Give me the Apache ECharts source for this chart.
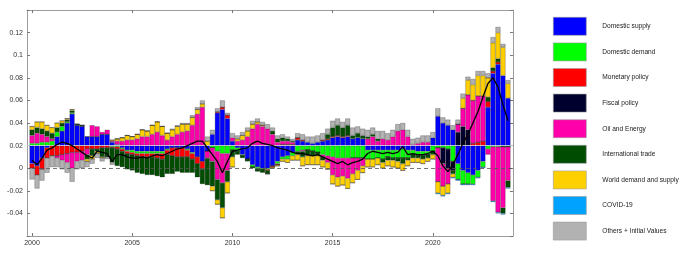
<!DOCTYPE html>
<html><head><meta charset="utf-8">
<script src="https://cdn.jsdelivr.net/npm/echarts@6/dist/echarts.min.js"></script>
<style>html,body{margin:0;padding:0;background:#fff}#c{width:685px;height:253px}</style>
</head><body><div id="c"></div>
<script>
// Steady-state level around which contributions are stacked
const BASELINE = 0.02;
const startYear = 2000, nQuarters = 96;
// quarter categories (2000Q1 ... 2023Q4), padded by one empty slot at each end
const quarters = [];
for (let i = 0; i < nQuarters; i++) quarters.push(String(startYear + i / 4));
const categories = ['pad0'].concat(quarters, ['pad1']);
const xTickLabels = ['2000', '2005', '2010', '2015', '2020'];
const yTickLabels = [-0.04, -0.02, 0, 0.02, 0.04, 0.06, 0.08, 0.1, 0.12];

const seriesNames = ['Domestic supply','Domestic demand','Monetary policy','Fiscal policy','Oil and Energy','International trade','World demand and supply','COVID-19','Others + Initial Values'];
const seriesColors = ['#0000ff','#00ff00','#ff0000','#00002e','#ff00aa','#004c00','#ffd000','#00a2ff','#b2b2b2'];

const domesticSupply = [-0.016,-0.018,-0.011,-0.002,0,0.008,0.013,0.020,0.028,0.018,0.017,0.008,0.008,0.008,0.010,0.010,
0.003,0.001,-0.002,-0.004,-0.004,-0.005,-0.005,-0.005,-0.005,-0.005,-0.005,-0.003,-0.002,-0.002,-0.002,-0.003,
-0.006,-0.010,-0.014,-0.005,0.010,0.029,0.032,0.024,0.004,-0.002,-0.008,-0.012,-0.017,-0.019,-0.020,-0.020,
-0.018,-0.014,-0.010,-0.009,-0.006,0.005,0.004,0.003,0.002,0.003,0.004,0.005,0.007,0.008,0.007,0.008,
0.006,0.007,0.006,-0.004,-0.004,-0.004,-0.004,-0.004,-0.004,-0.004,-0.003,-0.004,-0.004,-0.005,-0.005,-0.005,
0.007,0.026,0.020,0.018,0.014,-0.016,-0.022,-0.024,-0.026,-0.022,-0.014,0.034,0.064,0.072,0.062,0.042];
const domesticDemand = [0.002,0.002,0.003,0.003,0.004,0.004,0.004,0.001,0.001,0,0,0,0,0,0,0,
-0.001,-0.001,-0.001,-0.001,-0.002,-0.002,-0.002,-0.002,-0.002,-0.002,-0.002,-0.001,0,0,0,-0.001,
-0.001,0,0,0,-0.002,-0.005,-0.007,-0.007,-0.004,-0.003,-0.001,0,-0.002,-0.002,-0.001,-0.001,
0,-0.002,-0.002,-0.003,-0.003,-0.005,-0.004,-0.004,-0.005,-0.006,-0.008,-0.009,-0.010,-0.011,-0.011,-0.011,
-0.011,-0.011,-0.011,-0.008,-0.008,-0.007,-0.008,-0.006,-0.007,-0.007,-0.008,-0.007,-0.004,-0.004,-0.004,-0.003,
-0.005,-0.002,-0.002,-0.003,-0.014,-0.014,-0.012,-0.010,-0.008,-0.006,-0.005,-0.003,-0.001,-0.001,-0.001,-0.001];
const monetaryPolicy = [-0.004,-0.008,-0.010,-0.009,-0.009,-0.009,-0.008,-0.007,-0.006,-0.006,-0.005,-0.003,-0.003,-0.003,-0.002,-0.002,
-0.001,-0.002,-0.002,-0.002,-0.002,-0.002,-0.003,-0.003,-0.003,-0.004,-0.005,-0.004,-0.007,-0.008,-0.008,-0.006,
-0.005,-0.006,-0.007,0,0,0.001,0.002,0.003,0,0,0,0,0,0,0,-0.001,
-0.001,-0.001,0.001,0.001,0.001,0.002,0.001,0,0,0,0.001,0.001,0.001,0.001,0.001,0.001,
0,0,0,0,0,0,0,0,0,0,0,0,0,0,0,0,
0,0,0,0,0,0,0,0,0.002,0.003,0.004,0.005,0.002,0.002,0,0];
const fiscalPolicy = [0,0,0,0,0,0,0,0,0,0,0,0,0,0,0,0,
0,0,0,0,0,0,0,0,0,0,0,0,0,0,0,0,
0,0,0,0,0,0,0,0,0,0,0,0,0,0,0,0,
0,0,0,0,0,0,0,0,0,0,0,0,0,0,0,0,
0,0,0,0,0,0,0,0,0,0,0,0,0,0,0,0,
0,0,-0.014,-0.017,-0.008,0.012,0.017,0.014,0,0,0,0,0,0,0,0];
const oilEnergy = [0.007,0.009,0.007,0.005,0.002,-0.002,-0.005,-0.008,-0.014,-0.008,-0.008,-0.005,0.010,0.009,0.002,0.004,
0.001,0.003,0.004,0.005,0.005,0.006,0.008,0.008,0.010,0.012,0.009,0.005,0.008,0.010,0.012,0.013,
0.018,0.028,0.034,-0.006,-0.012,-0.025,-0.026,-0.015,0.003,0.004,0.005,0.008,0.015,0.019,0.017,0.015,
0.010,0.003,0.003,0.003,0.002,0,-0.001,0,0,0,-0.002,-0.006,-0.016,-0.017,-0.016,-0.018,
-0.014,-0.011,-0.007,0.006,0.008,0.004,0.006,0.005,0.008,0.013,0.014,0.008,0.001,0.002,0.003,0.003,
0,-0.030,-0.020,-0.014,0,0.007,0.016,0.031,0.038,0.041,0.040,-0.005,-0.048,-0.058,-0.054,-0.030];
const internationalTrade = [0.005,0.005,0.005,0.005,0.005,0.004,0.003,0.002,0.002,0.001,0.001,-0.004,-0.006,-0.002,-0.008,-0.008,
-0.013,-0.015,-0.014,-0.014,-0.014,-0.015,-0.015,-0.016,-0.016,-0.016,-0.016,-0.017,-0.016,-0.013,-0.014,-0.014,
-0.012,-0.012,-0.013,-0.024,-0.022,-0.018,-0.022,-0.010,-0.006,-0.003,-0.002,-0.002,-0.001,-0.002,-0.003,-0.003,
0.003,0.003,0.003,0.002,0.001,-0.003,-0.005,-0.005,-0.004,-0.003,-0.003,0.004,0.008,0.009,0.008,0.009,
0.003,0.004,0.003,0.002,0.002,0.002,-0.003,-0.003,-0.002,-0.003,-0.005,-0.002,-0.003,-0.002,-0.003,-0.003,
-0.003,0,0,0,-0.003,0,0,0,0,0,0,0.004,0.003,0.003,-0.005,-0.006];
const worldDemandSupply = [0.003,0.005,0.006,0.005,0.005,0.004,0.002,0.001,0.001,0,0,-0.002,-0.003,-0.002,-0.001,0,
0.001,0.002,0.003,0.004,0.003,0.004,0.006,0.005,0.008,0.009,0.008,0.006,0.006,0.007,0.007,0.006,
0.007,0.004,0.003,0.004,-0.004,-0.004,-0.009,-0.010,-0.009,0.002,0.004,0.005,0.004,0.002,0.001,0,
-0.001,-0.001,-0.002,-0.003,-0.004,-0.005,-0.008,-0.008,-0.008,-0.008,-0.006,-0.006,-0.008,-0.008,-0.008,-0.009,
-0.008,-0.008,-0.006,-0.007,-0.007,-0.006,-0.005,-0.005,-0.006,-0.006,-0.006,-0.005,-0.004,-0.004,-0.004,-0.003,
-0.004,-0.010,-0.008,-0.008,-0.003,0,0.009,0.013,0.014,0.018,0.018,0.017,0.022,0.023,0.025,0.013];
const covid19 = [0,0,0,0,0,0,0,0,0,0,0,0,0,0,0,0,
0,0,0,0,0,0,0,0,0,0,0,0,0,0,0,0,
0,0,0,0,0,0,0,0,0,0,0,0,0,0,0,0,
0,0,0,0,0,0,0,0,0,0,0,0,0,0,0,0,
0,0,0,0,0,0,0,0,0,0,0,0,0,0,0,0,
0,-0.001,-0.001,-0.001,-0.001,-0.001,-0.001,-0.001,-0.001,-0.001,-0.001,0,-0.001,-0.001,-0.001,-0.001];
const othersInitial = [-0.010,-0.012,-0.010,-0.013,-0.010,-0.008,-0.008,-0.009,-0.012,-0.007,-0.007,-0.005,-0.004,-0.004,-0.003,-0.002,
-0.002,0,0,0,0,0,0,0,0,0,0,0,0.001,0.001,0.001,0.001,
0.002,0.002,0.003,0.004,0.004,0.003,0.006,0.002,0.004,0.003,0.003,0.003,0.003,0.003,0.003,0.004,
0.003,0.003,0.003,0.002,0.002,0.004,0.005,0.005,0.006,0.006,0.006,0.005,0.006,0.006,0.005,0.006,
0.007,0.006,0.006,0.006,0.006,0.007,0.007,0.006,0.006,0.006,0.006,0.006,0.005,0.005,0.006,0.006,
0.005,0.007,0.005,0.005,0.004,0.004,0.004,0.003,0.005,0.004,0.004,0.004,0.005,0.005,0.003,0.003];
const inflation = [0.007,0.003,0.009,0.016,0.018,0.021,0.023,0.022,0.020,0.017,0.014,0.011,0.009,0.015,0.014,0.013,
0.006,0.012,0.012,0.010,0.009,0.009,0.010,0.009,0.011,0.012,0.011,0.013,0.015,0.017,0.018,0.020,
0.022,0.024,0.024,0.018,0.012,0.006,-0.004,0.006,0.015,0.016,0.017,0.018,0.022,0.024,0.022,0.021,
0.020,0.018,0.017,0.016,0.014,0.013,0.013,0.012,0.011,0.012,0.010,0.008,0.006,0.004,0.006,0.003,
0.005,0.006,0.008,0.013,0.015,0.014,0.013,0.014,0.013,0.014,0.019,0.012,0.013,0.012,0.012,0.013,
0.015,0.011,0.002,-0.003,0.003,0.012,0.022,0.030,0.040,0.050,0.063,0.075,0.080,0.072,0.056,0.042];

const contributions = [domesticSupply, domesticDemand, monetaryPolicy, fiscalPolicy, oilEnergy, internationalTrade, worldDemandSupply, covid19, othersInitial];

const FONT = '"Liberation Sans", Arial, Helvetica, sans-serif';
const AXIS_COLOR = '#9c9c9c';
const chart = echarts.init(document.getElementById('c'), null, {renderer: 'canvas'});

// pad series with empty slot at each end (matches padded categories)
const padded = arr => ['-'].concat(arr, ['-']);

const barSeries = contributions.map((arr, k) => ({
  name: seriesNames[k],
  type: 'bar',
  stack: 'hd',
  barWidth: 5,
  data: padded(arr),
  itemStyle: {color: seriesColors[k], borderColor: 'rgba(0,0,0,0.45)', borderWidth: 0.5},
  emphasis: {disabled: true},
  z: 2
}));

const fmtY = v => {
  const a = Math.round((v + BASELINE) * 100) / 100;
  return yTickLabels.indexOf(a) >= 0 ? String(a) : '';
};
const isYearTick = (idx, val) => xTickLabels.indexOf(String(val)) >= 0;

const xAxisBase = {
  type: 'category', data: categories, boundaryGap: false,
  axisLine: {show: true, onZero: false, lineStyle: {color: AXIS_COLOR, width: 1}},
  axisTick: {show: true, inside: true, length: 3, interval: isYearTick, lineStyle: {color: '#777'}},
  splitLine: {show: false}
};
const yAxisBase = {
  type: 'value', min: -0.08, max: 0.12, interval: 0.02,
  axisLine: {show: true, onZero: false, lineStyle: {color: AXIS_COLOR, width: 1}},
  axisTick: {show: true, inside: true, length: 3, lineStyle: {color: '#777'}},
  splitLine: {show: false}
};

chart.setOption({
  animation: false,
  backgroundColor: '#fff',
  textStyle: {fontFamily: FONT},
  grid: {left: 27, right: 172, top: 10, bottom: 17, containLabel: false},
  legend: {
    data: seriesNames,
    orient: 'vertical', left: 548, top: 12,
    itemWidth: 33, itemHeight: 18, itemGap: 7,
    icon: 'rect',
    selectedMode: false,
    itemStyle: {borderColor: '#9a9a9a', borderWidth: 0.6},
    textStyle: {fontFamily: FONT, fontSize: 6.6, color: '#222', padding: [0, 0, 0, 11]}
  },
  xAxis: [
    Object.assign({}, xAxisBase, {position: 'bottom',
      axisLabel: {show: true, interval: isYearTick, fontSize: 7, color: '#333', margin: 4, fontFamily: FONT}}),
    Object.assign({}, xAxisBase, {position: 'top', axisLabel: {show: false}})
  ],
  yAxis: [
    Object.assign({}, yAxisBase, {position: 'left',
      axisLabel: {show: true, formatter: fmtY, fontSize: 7, color: '#333', margin: 4, fontFamily: FONT}}),
    Object.assign({}, yAxisBase, {position: 'right', axisLabel: {show: false}})
  ],
  series: barSeries.concat([
    {
      name: 'zero', type: 'line', data: [], z: 1, silent: true,
      markLine: {silent: true, symbol: 'none', label: {show: false},
        lineStyle: {color: '#555', type: [4, 3], width: 0.8},
        data: [[{coord: [1, 0 - BASELINE]}, {coord: [categories.length - 1, 0 - BASELINE]}]]}
    },
    {
      name: 'baseline', type: 'line', data: [], z: 3, silent: true,
      markLine: {silent: true, symbol: 'none', label: {show: false},
        lineStyle: {color: 'rgba(230,230,245,0.8)', type: 'solid', width: 0.8},
        data: [[{coord: [0, 0]}, {coord: [categories.length - 1, 0]}]]}
    },
    {
      name: 'Inflation', type: 'line', z: 5, symbol: 'none', silent: true,
      data: padded(inflation.map(v => v - BASELINE)),
      lineStyle: {color: '#000', width: 1.3}
    }
  ])
});
</script>
</body></html>
